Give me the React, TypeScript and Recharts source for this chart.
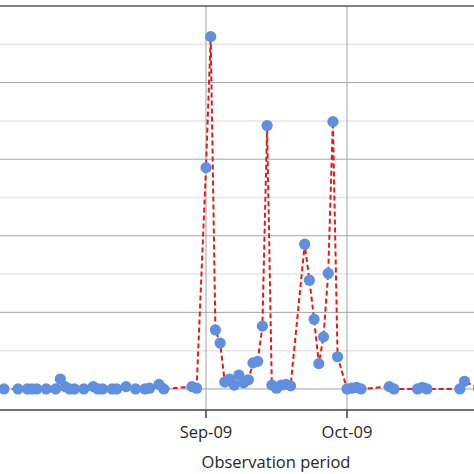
import { ComposedChart, Line, XAxis, YAxis, ReferenceLine, Label } from "recharts";

// days counted from 1 Sep 2009
const DAY_OFFSETS = [
  -43, -40, -38, -37, -36, -34, -32, -31, -30, -29, -28, -26, -24, -23, -22, -20, -19, -17, -15, -13, -12, -10, -9, -3, -2,
  0, 1, 2, 3, 4, 5, 6, 7, 8, 9, 10, 11, 12, 13, 14, 15, 16, 17, 18,
  21, 22, 23, 24, 25, 26, 27, 28,
  30, 31, 32, 33, 39, 40, 45, 46, 47, 54, 55, 58,
];

const VALUES = [
  0, 0, 0, 0, 0, 0, 0, 1.3, 0.3, 0, 0, 0, 0.3, 0, 0, 0, 0, 0.3, 0, 0, 0.1, 0.6, 0, 0.3, 0.1,
  28.9, 46.0, 7.7, 6.0, 0.9, 1.3, 0.5, 1.8, 0.8, 1.2, 3.4, 3.6, 8.2, 34.4, 0.5, 0.1, 0.5, 0.6, 0.4,
  18.9, 14.2, 9.1, 3.3, 6.8, 15.1, 34.9, 4.2,
  0, 0.1, 0.2, 0, 0.3, 0, 0, 0.2, 0, 0, 1.0, 0.1,
];

const TICK_DAYS = [0, 30];
const TICK_LABELS = ["Sep-09", "Oct-09"];

const MAJOR_Y = [0, 10, 20, 30, 40];
const MINOR_Y = [5, 15, 25, 35, 45];

const data = DAY_OFFSETS.map((day, i) => ({ day, value: VALUES[i] }));

const FONT = "'Open Sans', 'Noto Sans', sans-serif";

export default function App() {
  return (
    <div style={{ position: "absolute", left: 0, top: 0, width: 474, height: 474, background: "#fff", overflow: "hidden" }}>
      <div style={{ position: "absolute", left: -6, top: 0 }}>
        <ComposedChart width={486} height={474} data={data} margin={{ top: 6, right: 0, bottom: 6, left: 0 }}>
          {MINOR_Y.map((y) => (
            <ReferenceLine key={"m" + y} y={y} stroke="#e6e6e6" strokeWidth={1.5} />
          ))}
          {MAJOR_Y.map((y) => (
            <ReferenceLine key={"M" + y} y={y} stroke="#a3a3a3" strokeWidth={1} />
          ))}
          {TICK_DAYS.map((d) => (
            <ReferenceLine key={d} x={d} stroke="#a3a3a3" strokeWidth={1} />
          ))}
          <ReferenceLine y={50} stroke="#595959" strokeWidth={1.5} />
          <XAxis
            type="number"
            dataKey="day"
            domain={[-45.11, 58.3]}
            allowDataOverflow
            ticks={TICK_DAYS}
            tickFormatter={(d) => TICK_LABELS[TICK_DAYS.indexOf(d)]}
            height={58}
            tickSize={8}
            tickMargin={8}
            stroke="#404040"
            strokeWidth={1.5}
            tick={{ fill: "#262626", fontSize: 16.5, fontFamily: FONT }}
          >
            <Label
              value="Observation period"
              position="insideBottom"
              offset={0}
              dx={39}
              style={{ fill: "#262626", fontSize: 16.5, fontFamily: FONT }}
            />
          </XAxis>
          <YAxis hide type="number" domain={[-2.75, 50]} allowDataOverflow />
          <Line
            type="linear"
            dataKey="value"
            stroke="#e01b1b"
            strokeWidth={2}
            strokeDasharray="5 3"
            dot={{ r: 5.6, fill: "#5f8fe0", stroke: "#5f8fe0", strokeWidth: 0 }}
            activeDot={false}
            isAnimationActive={false}
          />
        </ComposedChart>
      </div>
    </div>
  );
}
